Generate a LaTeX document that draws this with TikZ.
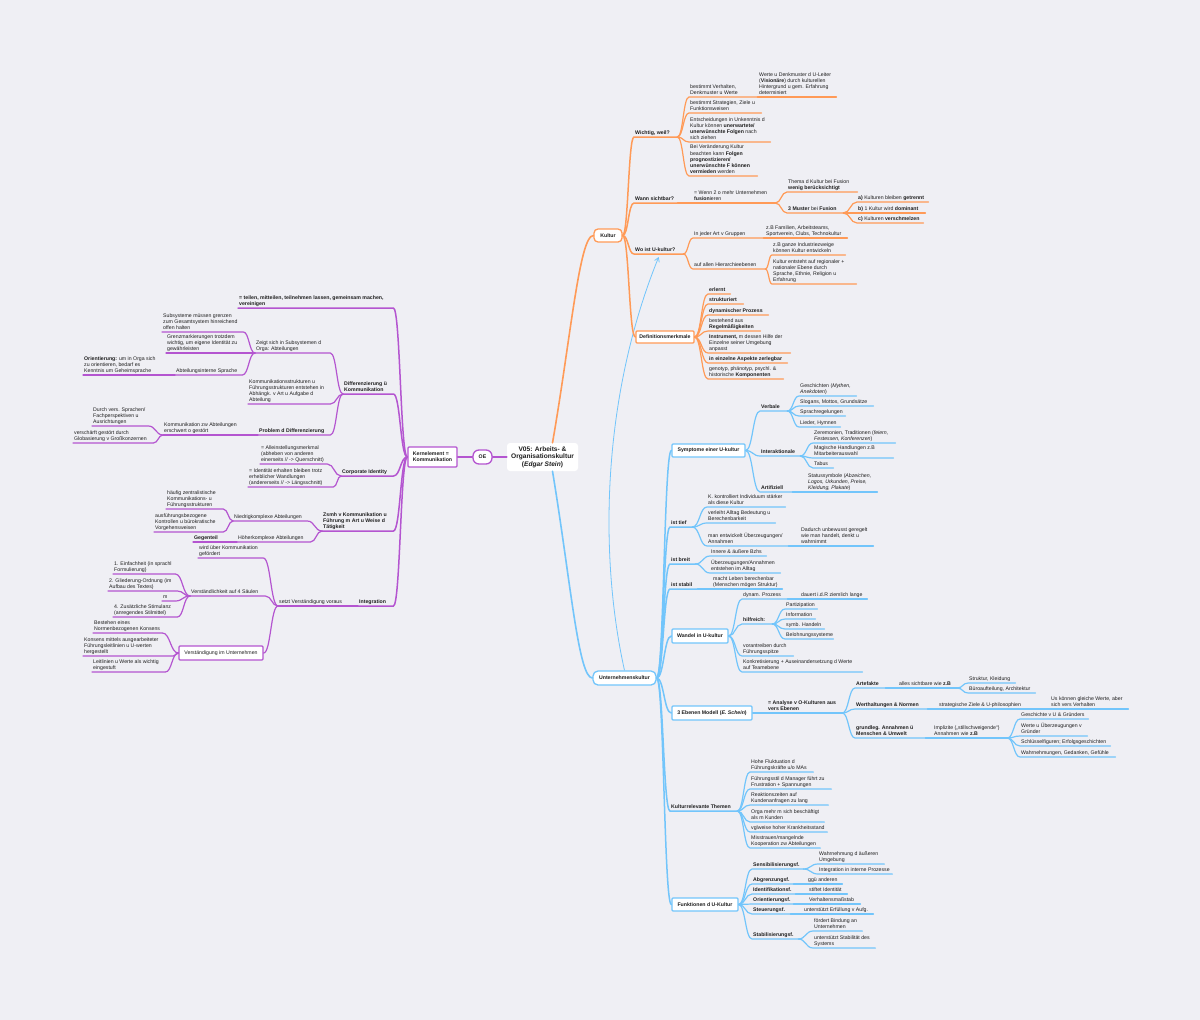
\documentclass[tikz,border=0pt]{standalone}
\usepackage{fontspec}
\setmainfont{Liberation Sans}
\usepackage{xcolor}
\usetikzlibrary{arrows.meta,calc}
\definecolor{canvas}{HTML}{EFEFF4}
\definecolor{ink}{HTML}{1E1E1E}
\definecolor{kulturorange}{HTML}{FF9A57}
\definecolor{oepurple}{HTML}{B455D0}
\definecolor{ukblue}{HTML}{72C5FB}
\newcommand\mapfont{\fontsize{5.2}{6.1}\selectfont}
\newcommand\rootfont{\fontsize{6.6}{7.3}\selectfont}
\tikzset{
  topic/.style={anchor=south west,align=flush left,inner xsep=1pt,inner ysep=0.6pt,
                font=\mapfont,text=ink,execute at end node=\strut},
  mapbox/.style={fill=white,line width=1.3pt,inner sep=0pt,align=center,
                 font=\mapfont\bfseries,text=ink,rounded corners=1pt},
  obox/.style={mapbox,draw=kulturorange},
  pbox/.style={mapbox,draw=oepurple},
  bbox/.style={mapbox,draw=ukblue},
  orngline/.style={draw=kulturorange,line width=1.2pt,line cap=round},
  purpline/.style={draw=oepurple,line width=1.2pt,line cap=round},
  blueline/.style={draw=ukblue,line width=1.2pt,line cap=round},
  bough/.style={to path={let \p1=(\tikztostart),\p2=(\tikztotarget) in
      .. controls ({0.5*\x1+0.5*\x2},\y1) and ({0.5*\x1+0.5*\x2},\y2) .. (\tikztotarget)}}
}

\begin{document}
\begin{tikzpicture}[x=1pt,y=-1pt]
  \useasboundingbox (0,0) rectangle (1200,1020);
  \fill[canvas] (0,0) rectangle (1200,1020);

  % main nodes
  \node[fill=white,rounded corners=3pt,align=center,font=\rootfont\bfseries,text=ink,
        minimum width=71pt,minimum height=28pt,inner sep=1pt] (root) at (542.5,457)
    {V05: Arbeits- \&\\Organisationskultur\\(\textit{Edgar Stein})};
  \node[pbox,rounded corners=6pt,minimum width=19pt,minimum height=14pt] (oe) at (482.5,457) {OE};
  \node[pbox,align=left,minimum width=49pt,minimum height=20pt] (kern) at (432.5,457)
    {Kernelement =\\Kommunikation};
  \node[obox,rounded corners=4pt,minimum width=28pt,minimum height=13pt] (kultur) at (608,235.5) {Kultur};
  \node[bbox,rounded corners=5pt,minimum width=63pt,minimum height=14pt] (uk) at (624.5,678) {Unternehmenskultur};

  % Kultur
  \node[topic,text width=41pt] (wichtig) at (634,137) {\textbf{Wichtig, weil?}};
  \node[topic,text width=66pt] (w1) at (689,97) {bestimmt Verhalten,\\Denkmuster u Werte};
  \node[topic,text width=76pt] (w1a) at (758,97) {Werte u Denkmuster d U-Leiter\\(\textbf{Visionäre}) durch kulturellen\\Hintergrund u gem. Erfahrung\\determiniert};
  \node[topic,text width=70pt] (w2) at (689,113) {bestimmt Strategien, Ziele u\\Funktionsweisen};
  \node[topic,text width=79pt] (w3) at (689,142) {Entscheidungen in Unkenntnis d\\Kultur können \textbf{unerwartete/}\\\textbf{unerwünschte Folgen} nach\\sich ziehen};
  \node[topic,text width=66pt] (w4) at (689,176) {Bei Veränderung Kultur\\beachten kann \textbf{Folgen}\\\textbf{prognostizieren/}\\\textbf{unerwünschte F können}\\\textbf{vermieden} werden};
  \node[topic,text width=41pt] (wann) at (634,203) {\textbf{Wann sichtbar?}};
  \node[topic,text width=80pt] (wn1) at (693,203) {= Wenn 2 o mehr Unternehmen\\\textbf{fusion}ieren};
  \node[topic,text width=68pt] (wn1a) at (787,192) {Thema d Kultur bei Fusion\\\textbf{wenig berücksichtigt}};
  \node[topic,text width=54pt] (wn1b) at (787,213) {\textbf{3 Muster} bei \textbf{Fusion}};
  \node[topic,text width=69pt] (ma) at (857,202) {\textbf{a)} Kulturen bleiben \textbf{getrennt}};
  \node[topic,text width=66pt] (mb) at (857,213) {\textbf{b)} 1 Kultur wird \textbf{dominant}};
  \node[topic,text width=64pt] (mc) at (857,223) {\textbf{c)} Kulturen \textbf{verschmelzen}};
  \node[topic,text width=47pt] (wo) at (634,254) {\textbf{Wo ist U-kultur?}};
  \node[topic,text width=68pt] (wo1) at (693,238) {In jeder Art v Gruppen};
  \node[topic,text width=80pt] (wo1a) at (765,238) {z.B Familien, Arbeitsteams,\\Sportverein, Clubs, Technokultur};
  \node[topic,text width=70pt] (wo2) at (693,269) {auf allen Hierarchieebenen};
  \node[topic,text width=71pt] (wo2a) at (772,255) {z.B ganze Industriezweige\\können Kultur entwickeln};
  \node[topic,text width=82pt] (wo2b) at (772,284) {Kultur entsteht auf regionaler +\\nationaler Ebene durch\\Sprache, Ethnie, Religion u\\Erfahrung};
  \node[obox,minimum width=58pt,minimum height=12pt] (def) at (665,337) {Definitionsmerkmale};
  \node[topic,text width=20pt] (d1) at (708,294) {\textbf{erlernt}};
  \node[topic,text width=33pt] (d2) at (708,304) {\textbf{strukturiert}};
  \node[topic,text width=58pt] (d3) at (708,315) {\textbf{dynamischer Prozess}};
  \node[topic,text width=50pt] (d4) at (708,331) {bestehend aus\\\textbf{Regelmäßigkeiten}};
  \node[topic,text width=80pt] (d5) at (708,353) {\textbf{Instrument,} m dessen Hilfe der\\Einzelne seiner Umgebung\\anpasst};
  \node[topic,text width=77pt] (d6) at (708,363) {\textbf{in einzelne Aspekte zerlegbar}};
  \node[topic,text width=73pt] (d7) at (708,379) {genotyp, phänotyp, psychl. \&\\historische \textbf{Komponenten}};

  % Kernelement
  \node[topic,text width=153pt] (teil) at (238,308) {\textbf{= teilen, mitteilen, teilnehmen lassen, gemeinsam machen,}\\\textbf{vereinigen}};
  \node[topic,text width=48pt] (diff) at (343,394) {\textbf{Differenzierung ü}\\\textbf{Kommunikation}};
  \node[topic,text width=73pt] (zeigt) at (255,353) {Zeigt sich in Subsystemen d\\Orga: Abteilungen};
  \node[topic,text width=79pt] (sub) at (162,332) {Subsysteme müssen grenzen\\zum Gesamtsystem hinreichend\\offen halten};
  \node[topic,text width=85pt] (grenz) at (166,353) {Grenzmarkierungen trotzdem\\wichtig, um eigene Identität zu\\gewährleisten};
  \node[topic,text width=65pt] (sprache) at (175,375) {Abteilungsinterne Sprache};
  \node[topic,text width=78pt] (orient) at (83,375) {\textbf{Orientierung:} um in Orga sich\\zu orientieren, bedarf es\\Kenntnis um Geheimsprache};
  \node[topic,text width=80pt] (struk) at (248,404) {Kommunikationsstrukturen u\\Führungsstrukturen entstehen in\\Abhängk. v Art u Aufgabe d\\Abteilung};
  \node[topic,text width=70pt] (prob) at (258,435) {\textbf{Problem d Differenzierung}};
  \node[topic,text width=80pt] (zw) at (163,435) {Kommunikation zw Abteilungen\\erschwert o gestört};
  \node[topic,text width=54pt] (durch) at (92,426) {Durch vers. Sprachen/\\Fachperspektiven u\\Ausrichtungen};
  \node[topic,text width=78pt] (glob) at (73,443) {verschärft gestört durch\\Globasierung v Großkonzernen};
  \node[topic,text width=50pt] (ci) at (341,476) {\textbf{Corporate Identity}};
  \node[topic,text width=65pt] (allein) at (260,464) {= Alleinstellungsmerkmal\\(abheben von anderen\\einerseits // -> Querschnitt)};
  \node[topic,text width=83pt] (ident) at (248,487) {= Identität erhalten bleiben trotz\\erheblicher Wandlungen\\(andererseits // -> Längsschnitt)};
  \node[topic,text width=69pt] (zsmh) at (322,531) {\textbf{Zsmh v Kommunikation u}\\\textbf{Führung m Art u Weise d}\\\textbf{Tätigkeit}};
  \node[topic,text width=72pt] (niedrig) at (233,521) {Niedrigkomplexe Abteilungen};
  \node[topic,text width=55pt] (zentr) at (166,509) {häufig zentralistische\\Kommunikations- u\\Führungsstrukturen};
  \node[topic,text width=67pt] (ausf) at (154,532) {ausführungsbezogene\\Kontrollen u bürokratische\\Vorgehensweisen};
  \node[topic,text width=71pt] (hoeher) at (237,542) {Höherkomplexe Abteilungen};
  \node[topic,text width=28pt] (gegen) at (193,542) {\textbf{Gegenteil}};
  \node[topic,text width=33pt] (integ) at (358,606) {\textbf{Integration}};
  \node[topic,text width=65pt] (setzt) at (278,606) {setzt Verständigung voraus};
  \node[topic,text width=63pt] (wird) at (198,558) {wird über Kommunikation\\gefördert};
  \node[topic,text width=73pt] (saeulen) at (190,596) {Verständlichkeit auf 4 Säulen};
  \node[topic,text width=60pt] (s1) at (113,574) {1. Einfachheit (in sprachl\\Formulierung)};
  \node[topic,text width=67pt] (s2) at (108,591) {2. Gliederung-Ordnung (im\\Aufbau des Textes)};
  \node[topic,text width=11pt] (s3) at (162,601) {m};
  \node[topic,text width=62pt] (s4) at (113,617) {4. Zusätzliche Stimulanz\\(anregendes Stilmittel)};
  \node[pbox,font=\mapfont,minimum width=84pt,minimum height=14pt] (verst) at (221,653) {Verständigung im Unternehmen};
  \node[topic,text width=67pt] (kons1) at (93,633) {Bestehen eines\\Normenbezogenen Konsens};
  \node[topic,text width=88pt] (kons2) at (83,656) {Konsens mittels ausgearbeiteter\\Führungsleitlinien u U-werten\\hergestellt};
  \node[topic,text width=71pt] (leit) at (92,672) {Leitlinien u Werte als wichtig\\eingestuft};

  % Unternehmenskultur
  \node[bbox,minimum width=73pt,minimum height=13pt] (sym) at (708.5,450.5) {Symptome einer U-kultur};
  \node[topic,text width=25pt] (verb) at (760,411) {\textbf{Verbale}};
  \node[topic,text width=55pt] (gesch) at (799,396) {Geschichten (\textit{Mythen,}\\\textit{Anekdoten})};
  \node[topic,text width=72pt] (slog) at (799,406) {Slogans, Mottos, Grundsätze};
  \node[topic,text width=44pt] (sprach) at (799,416) {Sprachregelungen};
  \node[topic,text width=39pt] (lied) at (799,427) {Lieder, Hymnen};
  \node[topic,text width=38pt] (inter) at (760,456) {\textbf{Interaktionale}};
  \node[topic,text width=80pt] (zerem) at (813,443) {Zeremonien, Traditionen (\textit{feiern,}\\\textit{Festessen, Konferenzen})};
  \node[topic,text width=78pt] (magie) at (813,458) {Magische Handlungen z.B\\Mitarbeiterauswahl};
  \node[topic,text width=18pt] (tabu) at (813,468) {Tabus};
  \node[topic,text width=30pt] (artif) at (760,492) {\textbf{Artifiziell}};
  \node[topic,text width=68pt] (status) at (807,492) {Statussymbole (\textit{Abzeichen,}\\\textit{Logos, Urkunden, Preise,}\\\textit{Kleidung, Plakate})};
  \node[topic,text width=20pt] (tief) at (670,527) {\textbf{ist tief}};
  \node[topic,text width=76pt] (t1) at (707,507) {K. kontrolliert Individuum stärker\\als diese Kultur};
  \node[topic,text width=66pt] (t2) at (707,523) {verleiht Alltag Bedeutung u\\Berechenbarkeit};
  \node[topic,text width=79pt] (t3) at (707,546) {man entwickelt Überzeugungen/\\Annahmen};
  \node[topic,text width=71pt] (t3a) at (800,546) {Dadurch unbewusst geregelt\\wie man handelt, denkt u\\wahrnimmt};
  \node[topic,text width=23pt] (breit) at (670,564) {\textbf{ist breit}};
  \node[topic,text width=54pt] (br1) at (710,556) {Innere \& äußere Bzhs};
  \node[topic,text width=68pt] (br2) at (710,573) {Überzeugungen/Annahmen\\entstehen im Alltag};
  \node[topic,text width=25pt] (stabil) at (670,589) {\textbf{ist stabil}};
  \node[topic,text width=68pt] (st1) at (712,589) {macht Leben berechenbar\\(Menschen mögen Struktur)};
  \node[bbox,minimum width=56pt,minimum height=14pt] (wandel) at (700,636) {Wandel in U-kultur};
  \node[topic,text width=43pt] (dyn) at (742,599) {dynam. Prozess};
  \node[topic,text width=65pt] (dyn1) at (800,599) {dauert i.d.R ziemlich lange};
  \node[topic,text width=28pt] (hilf) at (742,624) {\textbf{hilfreich:}};
  \node[topic,text width=30pt] (h1) at (785,609) {Partizipation};
  \node[topic,text width=28pt] (h2) at (785,619) {Information};
  \node[topic,text width=37pt] (h3) at (785,629) {symb. Handeln};
  \node[topic,text width=46pt] (h4) at (785,639) {Belohnungssysteme};
  \node[topic,text width=49pt] (voran) at (742,656) {vorantreiben durch\\Führungsspitze};
  \node[topic,text width=118pt] (konk) at (742,672) {Konkretisierung + Auseinandersetzung d Werte\\auf Teamebene};
  \node[bbox,minimum width=80pt,minimum height=14pt] (ebenen) at (712,713) {3 Ebenen Modell (\textit{E. Schein})};
  \node[topic,text width=73pt] (analyse) at (767,713) {\textbf{= Analyse v O-Kulturen aus}\\\textbf{vers Ebenen}};
  \node[topic,text width=28pt] (arte) at (855,688) {\textbf{Artefakte}};
  \node[topic,text width=57pt] (arte1) at (898,688) {alles sichtbare wie \textbf{z.B}};
  \node[topic,text width=45pt] (arte1a) at (968,683) {Struktur, Kleidung};
  \node[topic,text width=65pt] (arte1b) at (968,693) {Büroaufteilung, Architektur};
  \node[topic,text width=70pt] (wert) at (855,709) {\textbf{Werthaltungen \& Normen}};
  \node[topic,text width=105pt] (wert1) at (938,709) {strategische Ziele \& U-philosophien};
  \node[topic,text width=76pt] (wert1a) at (1050,709) {Us können gleiche Werte, aber\\sich vers Verhalten};
  \node[topic,text width=68pt] (grund) at (855,738) {\textbf{grundleg. Annahmen ü}\\\textbf{Menschen \& Umwelt}};
  \node[topic,text width=72pt] (grund1) at (933,738) {Implizite („stillschweigende“)\\Annahmen wie \textbf{z.B}};
  \node[topic,text width=66pt] (g1) at (1020,719) {Geschichte v U \& Gründers};
  \node[topic,text width=65pt] (g2) at (1020,736) {Werte u Überzeugungen v\\Gründer};
  \node[topic,text width=88pt] (g3) at (1020,746) {Schlüsselfiguren; Erfolgsgeschichten};
  \node[topic,text width=93pt] (g4) at (1020,757) {Wahrnehmungen, Gedanken, Gefühle};
  \node[topic,text width=65pt] (themen) at (670,811) {\textbf{Kulturrelevante Themen}};
  \node[topic,text width=61pt] (th1) at (750,772) {Hohe Fluktuation d\\Führungskräfte u/o MAs};
  \node[topic,text width=79pt] (th2) at (750,789) {Führungsstil d Manager führt zu\\Frustration + Spannungen};
  \node[topic,text width=76pt] (th3) at (750,805) {Reaktionszeiten auf\\Kundenanfragen zu lang};
  \node[topic,text width=72pt] (th4) at (750,822) {Orga mehr m sich beschäftigt\\als m Kunden};
  \node[topic,text width=75pt] (th5) at (750,832) {vglweise hoher Krankheitsstand};
  \node[topic,text width=68pt] (th6) at (750,848) {Misstrauen/mangelnde\\Kooperation zw Abteilungen};
  \node[bbox,minimum width=66pt,minimum height=13pt] (funk) at (705,904.5) {Funktionen d U-Kultur};
  \node[topic,text width=49pt] (sens) at (752,869) {\textbf{Sensibilisierungsf.}};
  \node[topic,text width=64pt] (sens1) at (818,864) {Wahrnehmung d äußeren\\Umgebung};
  \node[topic,text width=72pt] (sens2) at (818,874) {Integration in interne Prozesse};
  \node[topic,text width=39pt] (abgr) at (752,884) {\textbf{Abgrenzungsf.}};
  \node[topic,text width=33pt] (abgr1) at (807,884) {ggü anderen};
  \node[topic,text width=41pt] (identf) at (752,894) {\textbf{Identifikationsf.}};
  \node[topic,text width=37pt] (identf1) at (808,894) {stiftet Identität};
  \node[topic,text width=39pt] (orientf) at (752,904) {\textbf{Orientierungsf.}};
  \node[topic,text width=50pt] (orientf1) at (808,904) {Verhaltensmaßstab};
  \node[topic,text width=36pt] (steuer) at (752,914) {\textbf{Steuerungsf.}};
  \node[topic,text width=68pt] (steuer1) at (803,914) {unterstützt Erfüllung v Aufg.};
  \node[topic,text width=44pt] (stab) at (752,939) {\textbf{Stabilisierungsf.}};
  \node[topic,text width=47pt] (stab1) at (813,931) {fördert Bindung an\\Unternehmen};
  \node[topic,text width=60pt] (stab2) at (813,948) {unterstützt Stabilität des\\Systems};

  % connectors
  \draw[orngline,line width=1.6pt] ([xshift=10pt]root.north) .. controls +(18,-103) and +(-14,0) .. (kultur.west);
  \draw[blueline,line width=1.6pt] ([xshift=10pt]root.south) .. controls +(18,109) and +(-14,0) .. (uk.west);
  \draw[purpline,line width=1.6pt] (root.west) -- (oe.east);
  \draw[purpline,line width=1.6pt] (oe.west) -- (kern.east);
  \draw[ukblue,line width=0.8pt,-{Straight Barb[length=4pt,width=5pt]}]
    (uk.north) .. controls +(-25,-112) and +(-58,143) .. ([yshift=-3pt]wo.south);

  \foreach \c in {wichtig,wann,wo}
    \draw[orngline,line width=1.5pt] (kultur.east) to[bough] (\c.south west) -- (\c.south east);
  \draw[orngline,line width=1.5pt] (kultur.east) to[bough] (def.west);
  \foreach \c in {w1,w2,w3,w4}
    \draw[orngline] (wichtig.south east) to[bough] (\c.south west) -- (\c.south east);
  \draw[orngline] (w1.south east) to[bough] (w1a.south west) -- (w1a.south east);
  \draw[orngline] (wann.south east) to[bough] (wn1.south west) -- (wn1.south east);
  \foreach \c in {wn1a,wn1b}
    \draw[orngline] (wn1.south east) to[bough] (\c.south west) -- (\c.south east);
  \foreach \c in {ma,mb,mc}
    \draw[orngline] (wn1b.south east) to[bough] (\c.south west) -- (\c.south east);
  \foreach \c in {wo1,wo2}
    \draw[orngline] (wo.south east) to[bough] (\c.south west) -- (\c.south east);
  \draw[orngline] (wo1.south east) to[bough] (wo1a.south west) -- (wo1a.south east);
  \foreach \c in {wo2a,wo2b}
    \draw[orngline] (wo2.south east) to[bough] (\c.south west) -- (\c.south east);
  \foreach \c in {d1,d2,d3,d4,d5,d6,d7}
    \draw[orngline] (def.east) to[bough] (\c.south west) -- (\c.south east);

  \foreach \c in {teil,diff,ci,zsmh,integ}
    \draw[purpline,line width=1.5pt] (kern.west) to[bough] (\c.south east) -- (\c.south west);
  \foreach \c in {zeigt,struk,prob}
    \draw[purpline] (diff.south west) to[bough] (\c.south east) -- (\c.south west);
  \foreach \c in {sub,grenz,sprache}
    \draw[purpline] (zeigt.south west) to[bough] (\c.south east) -- (\c.south west);
  \draw[purpline] (sprache.south west) to[bough] (orient.south east) -- (orient.south west);
  \draw[purpline] (prob.south west) to[bough] (zw.south east) -- (zw.south west);
  \foreach \c in {durch,glob}
    \draw[purpline] (zw.south west) to[bough] (\c.south east) -- (\c.south west);
  \foreach \c in {allein,ident}
    \draw[purpline] (ci.south west) to[bough] (\c.south east) -- (\c.south west);
  \foreach \c in {niedrig,hoeher}
    \draw[purpline] (zsmh.south west) to[bough] (\c.south east) -- (\c.south west);
  \foreach \c in {zentr,ausf}
    \draw[purpline] (niedrig.south west) to[bough] (\c.south east) -- (\c.south west);
  \draw[purpline] (hoeher.south west) to[bough] (gegen.south east) -- (gegen.south west);
  \draw[purpline] (integ.south west) to[bough] (setzt.south east) -- (setzt.south west);
  \foreach \c in {wird,saeulen}
    \draw[purpline] (setzt.south west) to[bough] (\c.south east) -- (\c.south west);
  \draw[purpline] (setzt.south west) to[bough] (verst.east);
  \foreach \c in {s1,s2,s3,s4}
    \draw[purpline] (saeulen.south west) to[bough] (\c.south east) -- (\c.south west);
  \foreach \c in {kons1,kons2,leit}
    \draw[purpline] (verst.west) to[bough] (\c.south east) -- (\c.south west);

  \foreach \c in {sym,wandel,ebenen,funk}
    \draw[blueline,line width=1.5pt] (uk.east) to[bough] (\c.west);
  \foreach \c in {tief,breit,stabil,themen}
    \draw[blueline,line width=1.5pt] (uk.east) to[bough] (\c.south west) -- (\c.south east);
  \foreach \c in {verb,inter,artif}
    \draw[blueline] (sym.east) to[bough] (\c.south west) -- (\c.south east);
  \foreach \c in {gesch,slog,sprach,lied}
    \draw[blueline] (verb.south east) to[bough] (\c.south west) -- (\c.south east);
  \foreach \c in {zerem,magie,tabu}
    \draw[blueline] (inter.south east) to[bough] (\c.south west) -- (\c.south east);
  \draw[blueline] (artif.south east) to[bough] (status.south west) -- (status.south east);
  \foreach \c in {t1,t2,t3}
    \draw[blueline] (tief.south east) to[bough] (\c.south west) -- (\c.south east);
  \draw[blueline] (t3.south east) to[bough] (t3a.south west) -- (t3a.south east);
  \foreach \c in {br1,br2}
    \draw[blueline] (breit.south east) to[bough] (\c.south west) -- (\c.south east);
  \draw[blueline] (stabil.south east) to[bough] (st1.south west) -- (st1.south east);
  \foreach \c in {dyn,hilf,voran,konk}
    \draw[blueline] (wandel.east) to[bough] (\c.south west) -- (\c.south east);
  \draw[blueline] (dyn.south east) to[bough] (dyn1.south west) -- (dyn1.south east);
  \foreach \c in {h1,h2,h3,h4}
    \draw[blueline] (hilf.south east) to[bough] (\c.south west) -- (\c.south east);
  \draw[blueline] (ebenen.east) to[bough] (analyse.south west) -- (analyse.south east);
  \foreach \c in {arte,wert,grund}
    \draw[blueline] (analyse.south east) to[bough] (\c.south west) -- (\c.south east);
  \draw[blueline] (arte.south east) to[bough] (arte1.south west) -- (arte1.south east);
  \foreach \c in {arte1a,arte1b}
    \draw[blueline] (arte1.south east) to[bough] (\c.south west) -- (\c.south east);
  \draw[blueline] (wert.south east) to[bough] (wert1.south west) -- (wert1.south east);
  \draw[blueline] (wert1.south east) to[bough] (wert1a.south west) -- (wert1a.south east);
  \draw[blueline] (grund.south east) to[bough] (grund1.south west) -- (grund1.south east);
  \foreach \c in {g1,g2,g3,g4}
    \draw[blueline] (grund1.south east) to[bough] (\c.south west) -- (\c.south east);
  \foreach \c in {th1,th2,th3,th4,th5,th6}
    \draw[blueline] (themen.south east) to[bough] (\c.south west) -- (\c.south east);
  \foreach \c in {sens,abgr,identf,orientf,steuer,stab}
    \draw[blueline] (funk.east) to[bough] (\c.south west) -- (\c.south east);
  \foreach \c in {sens1,sens2}
    \draw[blueline] (sens.south east) to[bough] (\c.south west) -- (\c.south east);
  \draw[blueline] (abgr.south east) to[bough] (abgr1.south west) -- (abgr1.south east);
  \draw[blueline] (identf.south east) to[bough] (identf1.south west) -- (identf1.south east);
  \draw[blueline] (orientf.south east) to[bough] (orientf1.south west) -- (orientf1.south east);
  \draw[blueline] (steuer.south east) to[bough] (steuer1.south west) -- (steuer1.south east);
  \foreach \c in {stab1,stab2}
    \draw[blueline] (stab.south east) to[bough] (\c.south west) -- (\c.south east);
\end{tikzpicture}
\end{document}
